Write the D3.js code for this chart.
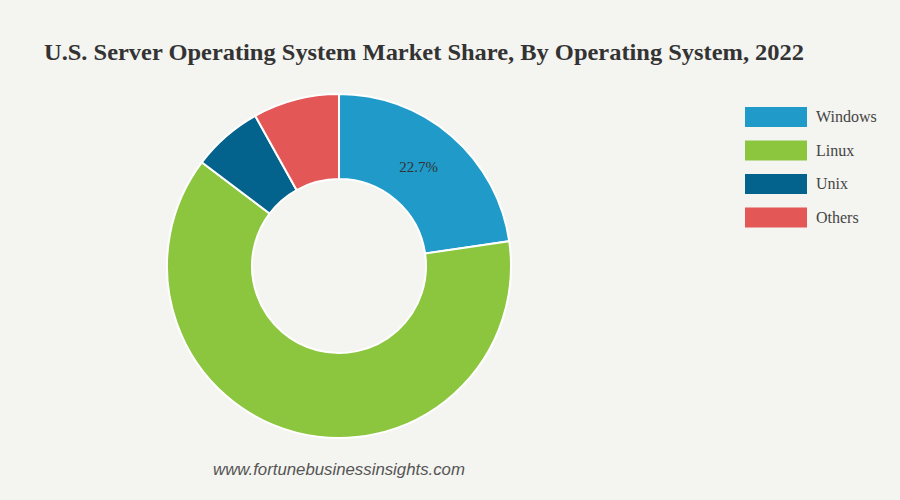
<!DOCTYPE html>
<html><head><meta charset="utf-8">
<script src="https://cdn.jsdelivr.net/npm/d3@7"></script>
<style>body{margin:0;background:#f4f4f0}</style></head>
<body><svg id="c" width="900" height="500"></svg>
<script>
const categories = ["Windows","Linux","Unix","Others"];
const values = [22.7, 62.6, 6.6, 8.1];
const colors = ["#1f9ac9","#8cc63f","#03638c","#e45757"];
const svg = d3.select("#c");
svg.append("rect").attr("width",900).attr("height",500).attr("fill","#f4f4f0");
svg.append("text").attr("x",44).attr("y",60).attr("font-family","Liberation Serif, serif")
  .attr("font-weight","bold").attr("font-size",21).attr("fill","#333")
  .attr("textLength",760).attr("lengthAdjust","spacingAndGlyphs")
  .style("font-size","24px")
  .text("U.S. Server Operating System Market Share, By Operating System, 2022");
const g = svg.append("g").attr("transform","translate(339,266)");
const pie = d3.pie().sort(null).value(d=>d)(values);
const arc = d3.arc().innerRadius(87).outerRadius(172);
g.selectAll("path").data(pie).join("path").attr("d",arc)
  .attr("fill",(d,i)=>colors[i]).attr("stroke","#fff").attr("stroke-width",2);
const c = arc.centroid(pie[0]);
g.append("text").attr("x",c[0]-5).attr("y",c[1]).attr("text-anchor","middle")
  .attr("dominant-baseline","middle").attr("font-family","Liberation Serif, serif")
  .attr("font-size",15).attr("fill","#333").text(values[0]+"%");
const lg = svg.append("g");
categories.forEach((k,i)=>{
  const y = 107 + i*33.5;
  lg.append("rect").attr("x",745).attr("y",y).attr("width",62).attr("height",20).attr("fill",colors[i]);
  lg.append("text").attr("x",816).attr("y",y+15).attr("font-family","Liberation Serif, serif")
    .attr("font-size",16).attr("fill","#444").text(k);
});
svg.append("text").attr("x",339).attr("y",475).attr("text-anchor","middle")
  .attr("font-family","Liberation Sans, Arial, sans-serif").attr("font-style","italic")
  .attr("font-size",16.8).attr("fill","#555").text("www.fortunebusinessinsights.com");
</script></body></html>
